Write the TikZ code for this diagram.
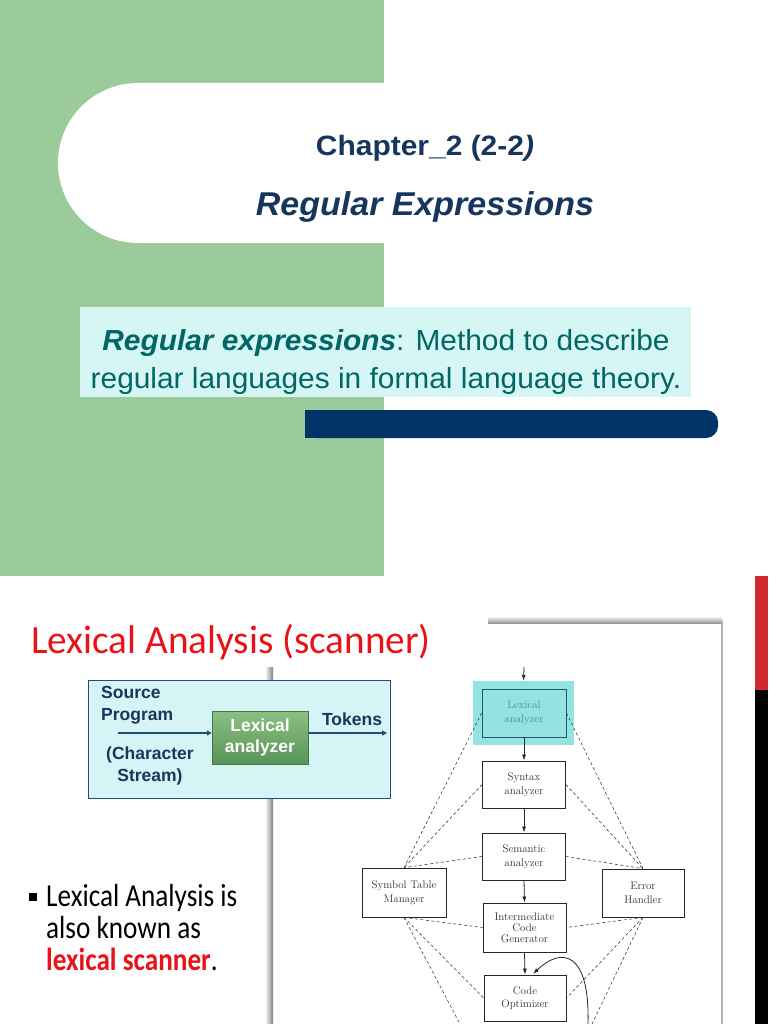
\documentclass[tikz,border=0pt]{standalone}
\usepackage{graphicx}
\usepackage{fontspec}
\newfontfamily\arial{Liberation Sans}
\newfontfamily\calibri{Carlito}
\usetikzlibrary{arrows.meta}
\definecolor{sgreen}{RGB}{155,203,155}
\definecolor{navytxt}{RGB}{23,54,93}
\definecolor{defbg}{RGB}{214,245,245}
\definecolor{tealtxt}{RGB}{0,102,102}
\definecolor{navybar}{RGB}{0,51,102}
\definecolor{titlered}{RGB}{232,18,24}
\definecolor{boxfill}{RGB}{214,243,245}
\definecolor{boxline}{RGB}{31,78,121}
\definecolor{gtop}{RGB}{140,192,130}
\definecolor{gbot}{RGB}{88,148,88}
\definecolor{lexcyan}{RGB}{148,226,226}
\definecolor{lexline}{RGB}{30,90,100}
\definecolor{lextxt}{RGB}{80,140,150}
\definecolor{redbar}{RGB}{208,40,46}
\tikzset{
  toptitle/.style={anchor=base, inner sep=0, text=navytxt},
  deftext/.style={anchor=base, inner sep=0, text=tealtxt, font=\arial\fontsize{29}{34}\selectfont},
  srctext/.style={inner sep=0, text=navytxt, font=\arial\bfseries\fontsize{17.5}{22}\selectfont},
  navyarrow/.style={draw=boxline, line width=1.2pt, -{Triangle[length=5pt,width=5pt]}},
  bullettext/.style={anchor=base west, inner sep=0, font=\calibri\fontsize{32}{32}\selectfont},
  dbox/.style={draw=black!85, line width=0.8pt, fill=white, inner sep=0, align=center, text=black!80,
    minimum width=83, minimum height=48, font=\fontsize{11}{13.5}\selectfont},
  arr/.style={draw=black!85, line width=0.8pt, -{Latex[length=6pt,width=4pt]}},
  dsh/.style={draw=black!80, line width=0.55pt, dash pattern=on 3pt off 2.5pt},
}
\begin{document}
\begin{tikzpicture}[x=1pt,y=-1pt]
\useasboundingbox (0,0) rectangle (768,1024);
\fill[white] (0,0) rectangle (768,1024);

% ---------- top slide ----------
\fill[sgreen] (0,0) rectangle (384,576);
\fill[white, rounded corners=80pt] (58,83) rectangle (540,243);
\node[toptitle, font=\arial\bfseries\fontsize{28}{32}\selectfont] (chap) at (425,156)
  {\scalebox{1.07}[1]{Chapter\_2 (2-2\textit{)}}};
\node[toptitle, font=\arial\bfseries\itshape\fontsize{33}{38}\selectfont] (regex) at (425,216)
  {\scalebox{1.03}[1]{Regular Expressions}};

\node[fill=defbg, minimum width=611, minimum height=90, inner sep=0] (defbox) at (385.5,352) {};
\node[deftext] (def1) at (386,350)
  {\scalebox{1.03}[1]{\textbf{\textit{Regular expressions}}: Method to describe}};
\node[deftext] (def2) at (386,388)
  {\scalebox{1.03}[1]{regular languages in formal language theory.}};

\fill[navybar, rounded corners=12pt] (305,410) rectangle (718,438);
\fill[navybar] (305,410) rectangle (340,438);

% ---------- bottom slide ----------
\fill[redbar] (755,576) rectangle (768,690);
\fill[black] (755,690) rectangle (768,1024);

% image frame shadows
\shade[top color=white, bottom color=black!40] (488,616) rectangle (722,623);
\shade[left color=white, right color=black!50] (265,667) rectangle (273,1024);
\draw[black!30, line width=1.5pt] (722,621) -- (722,1024);

\node[anchor=base west, inner sep=0, text=titlered, font=\calibri\fontsize{40}{46}\selectfont] (lextitle) at (31,653)
  {\scalebox{0.98}[1]{Lexical Analysis (scanner)}};

% left flow box
\node[draw=boxline, fill=boxfill, line width=1pt, minimum width=302, minimum height=118, inner sep=0] (srcbox) at (239,739) {};
\node[draw=gbot!80!black, line width=0.4pt, top color=gtop, bottom color=gbot, minimum width=96, minimum height=53,
  inner sep=0, align=center, text=white, font=\arial\bfseries\fontsize{17.5}{21}\selectfont] (lexgreen) at (260,737.5)
  {Lexical\\analyzer};
\node[srctext, anchor=north west, align=left] (src) at (101,686) {Source\\Program};
\node[srctext, align=center] (chs) at (150,765.5) {(Character\\Stream)};
\node[srctext] (tok) at (352,719) {Tokens};
\coordinate (ain) at (118,733);
\coordinate (aout) at (387,733);
\draw[navyarrow] (ain) -- (ain -| lexgreen.west);
\draw[navyarrow] (lexgreen.east |- aout) -- (aout);

% bullet
\node[fill=black, minimum size=7.5, inner sep=0] (bul) at (33,897) {};
\node[bullettext] (b1) at (46,906) {\scalebox{0.85}[1]{Lexical Analysis is}};
\node[bullettext] (b2) at (46,938) {\scalebox{0.85}[1]{also known as}};
\node[bullettext] (b3) at (46,970) {\scalebox{0.85}[1]{\textcolor{titlered}{\bfseries lexical scanner}.}};

% compiler phases diagram
\node[fill=lexcyan, minimum width=101, minimum height=64, inner sep=0] (lexhl) at (523.5,713) {};
\node[dbox, draw=lexline, fill=none, text=lextxt, minimum width=84] (lex) at (524,713) {Lexical\\analyzer};
\node[dbox, minimum height=47] (syn) at (524,784.5) {Syntax\\analyzer};
\node[dbox, minimum height=47] (sem) at (524,856.5) {Semantic\\analyzer};
\node[dbox, minimum height=49, font=\fontsize{11}{11}\selectfont] (icg) at (524.5,927.5) {Intermediate\\Code\\Generator};
\node[dbox, minimum width=82, minimum height=46] (opt) at (525,998) {Code\\Optimizer};
\node[dbox, minimum width=84, minimum height=49] (stm) at (404,892.5) {Symbol Table\\Manager};
\node[dbox, minimum width=82, minimum height=48] (err) at (643,893) {Error\\Handler};

\coordinate (topin) at (524,667);
\draw[arr] (topin) -- (lexhl.north);
\draw[arr] (lex.south) -- (syn.north);
\draw[arr] (syn.south) -- (sem.north);
\draw[arr] (sem.south) -- (icg.north);
\draw[arr] (icg.south) -- (opt.north);
\coordinate (loopstart) at (588,1024);
\draw[arr] (loopstart) .. controls (590,952) and (562,946) .. (533,974);

\draw[dsh] (lex.west) -- (stm.north);
\draw[dsh] (syn.west) -- (stm.north);
\draw[dsh] (sem.west) -- (stm.north);
\draw[dsh] (lex.east) -- (err.north);
\draw[dsh] (syn.east) -- (err.north);
\draw[dsh] (sem.east) -- (err.north);
\coordinate (dl) at (460,1024);
\coordinate (dr) at (592,1024);
\draw[dsh] (stm.south) -- (icg.west);
\draw[dsh] (stm.south) -- (opt.west);
\draw[dsh] (stm.south) -- (dl);
\draw[dsh] (err.south) -- (icg.east);
\draw[dsh] (err.south) -- (opt.east);
\draw[dsh] (err.south) -- (dr);
\end{tikzpicture}
\end{document}
